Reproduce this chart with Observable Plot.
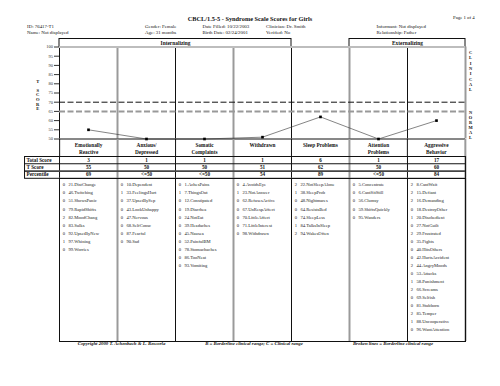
<!DOCTYPE html>
<html><head><meta charset="utf-8">
<script src="https://cdn.jsdelivr.net/npm/d3@7"></script>
<script src="https://cdn.jsdelivr.net/npm/@observablehq/plot@0.6"></script>
<style>
html,body{margin:0;padding:0;background:#fff;}
#page{position:relative;width:500px;height:386px;overflow:hidden;font-family:"Liberation Serif","Times New Roman",serif;color:#111;}
.t{position:absolute;white-space:nowrap;line-height:1;}
#page svg{position:absolute;left:0;}
</style></head>
<body><div id="page"></div>
<script>
// ---------- data ----------
const titleText = "CBCL/1.5-5 - Syndrome Scale Scores for Girls";
const pageText = "Page 1 of 4";
const infoCol1 = ["ID: 76417-T1", "Name: Not displayed"];
const infoCol2 = ["Gender: Female", "Age: 31 months"];
const infoCol3 = ["Date Filled: 10/22/2003", "Birth Date: 02/24/2001"];
const infoCol4 = ["Clinician: Dr. Smith", "Verified: No"];
const infoCol5 = ["Informant: Not displayed", "Relationship: Father"];
const groupNames = ["Internalizing", "Externalizing"];
const groupFrom = [0, 5];
const groupTo = [4, 7];
const scaleNames = ["Emotionally\nReactive", "Anxious/\nDepressed", "Somatic\nComplaints", "Withdrawn", "Sleep Problems", "Attention\nProblems", "Aggressive\nBehavior"];
const totalScores = ["3", "1", "1", "1", "6", "1", "17"];
const tScores = [55, 50, 50, 51, 62, 50, 60];
const percentiles = ["69", "<=50", "<=50", "54", "89", "<=50", "84"];
const rowLabels = ["Total Score", "T Score", "Percentile"];
const yTicks = [50, 55, 60, 65, 70, 75, 80, 85, 90, 95, 100];
const clinicalLine = 70;
const borderlineLine = 65;
const itemsEmotional = ["21.DistChange","46.Twitching","51.ShowsPanic","79.RapidShifts","82.MoodChang","83.Sulks","92.UpsetByNew","97.Whining","99.Worries"];
const scoresEmotional = [0,0,0,0,2,0,0,1,0];
const itemsAnxious = ["10.Dependent","33.FeelingsHurt","37.UpsetBySep","43.LookUnhappy","47.Nervous","68.SelfConsc","87.Fearful","90.Sad"];
const scoresAnxious = [0,1,0,0,0,0,0,0];
const itemsSomatic = ["1.AchesPains","7.ThingsOut","12.Constipated","19.Diarrhea","24.NotEat","39.Headaches","45.Nausea","52.PainfulBM","78.Stomachaches","86.TooNeat","93.Vomiting"];
const scoresSomatic = [0,1,0,0,0,0,0,0,0,0,0];
const itemsWithdrawn = ["4.AvoidsEye","23.NotAnswer","62.RefusesActive","67.UnRespAffect","70.LittleAffect","71.LittleInterest","98.Withdrawn"];
const scoresWithdrawn = [0,1,0,0,0,0,0];
const itemsSleep = ["22.NotSleepAlone","38.SleepProb","48.Nightmares","64.ResistsBed","74.SleepLess","84.TalksInSleep","94.WakesOften"];
const scoresSleep = [2,1,0,0,0,1,2];
const itemsAttention = ["5.Concentrate","6.CantSitStill","56.Clumsy","59.ShiftsQuickly","95.Wanders"];
const scoresAttention = [0,0,0,0,0];
const itemsAggressive = ["8.CantWait","15.Defiant","16.Demanding","18.DestroyOther","20.Disobedient","27.NotGuilt","29.Frustrated","35.Fights","40.HitsOthers","42.HurtsAccident","44.AngryMoods","53.Attacks","58.Punishment","66.Screams","69.Selfish","81.Stubborn","85.Temper","88.Uncooperative","96.WantAttention"];
const scoresAggressive = [2,2,2,0,1,0,2,0,0,0,2,0,1,2,0,0,2,1,0];
const footerTexts = ["Copyright 2000 T. Achenbach & L. Rescorla", "B = Borderline clinical range; C = Clinical range", "Broken lines = Borderline clinical range"];
const tScoreLetters = ["T", "", "S", "C", "O", "R", "E"];
const clinicalLetters = ["C","L","I","N","I","C","A","L"];
const normalLetters = ["N","O","R","M","A","L"];

// ---------- helpers ----------
const page = document.getElementById("page");
const FONT = "Liberation Serif";
function addText(txt, x, y, opts = {}) {
  const d = document.createElement("div");
  d.className = "t";
  d.textContent = txt;
  d.style.left = x + "px";
  d.style.top = y + "px";
  d.style.fontSize = (opts.size || 5) + "px";
  if (opts.bold) d.style.fontWeight = "bold";
  if (opts.italic) d.style.fontStyle = "italic";
  if (opts.center) d.style.transform = "translateX(-50%)";
  page.appendChild(d);
  return d;
}
function place(svg, top) {
  svg.style.top = top + "px";
  page.appendChild(svg);
}
const nCols = scaleNames.length;
const dividers = d3.range(nCols + 1);
const divStroke = d => (d % 2 === 1 ? "#9a9a9a" : "#111");
const divWidth = d => (d % 2 === 1 ? 2 : 1);
const baseStyle = {background: "transparent", overflow: "visible", fontFamily: FONT, color: "#111"};
const xOpt = {domain: [0, nCols], axis: null};

// ---------- header text ----------
addText(titleText, 250, 15.5, {size: 6.3, bold: true, center: true});
addText(pageText, 453, 16.3, {size: 4.8});
[infoCol1, infoCol2, infoCol3, infoCol4, infoCol5].forEach((col, k) => {
  const xs = [27, 145, 202.5, 266, 376.5];
  col.forEach((t, j) => addText(t, xs[k], 24.5 + j * 6.8, {size: 4.9}));
});

// ---------- group header (Internalizing / Externalizing) ----------
const groups = groupNames.map((n, i) => ({name: n, from: groupFrom[i], to: groupTo[i]}));
place(Plot.plot({
  width: 500, height: 8.5, marginTop: 0.5, marginBottom: 0, marginLeft: 59, marginRight: 35,
  x: xOpt, style: baseStyle,
  marks: [
    Plot.rect(groups, {x1: "from", x2: "to", stroke: "#111", fill: "none", strokeWidth: 1}),
    Plot.text(groups, {x: d => (d.from + d.to) / 2, text: "name", frameAnchor: "middle", fontWeight: "bold", fontSize: 5.4, dy: 0.3})
  ]
}), 38);

// ---------- T-score chart ----------
const pts = tScores.map((v, i) => ({col: i + 0.5, t: v}));
place(Plot.plot({
  width: 500, height: 102, marginTop: 8.5, marginBottom: 1.5, marginLeft: 59, marginRight: 35,
  x: xOpt,
  y: {domain: [50, 100], ticks: yTicks, tickSize: 5, tickPadding: 1.5, label: null, tickFormat: d => String(d)},
  style: {...baseStyle, fontSize: "4.5px", color: "#333"},
  marks: [
    Plot.ruleX(dividers, {x: d => d, y1: 50, y2: 100, stroke: divStroke, strokeWidth: divWidth}),
    Plot.ruleY([100], {stroke: "#bdbdbd", strokeWidth: 2}),
    Plot.ruleY([clinicalLine], {stroke: "#111", strokeWidth: 1, strokeDasharray: "6,2.5"}),
    Plot.ruleY([borderlineLine], {stroke: "#999", strokeWidth: 2, strokeDasharray: "6,2.5"}),
    Plot.ruleY([50], {stroke: "#111", strokeWidth: 1}),
    Plot.line(pts, {x: "col", y: "t", stroke: "#333", strokeWidth: 0.6}),
    Plot.dot(pts, {x: "col", y: "t", symbol: "square", r: 1.5, fill: "#000", stroke: "none"})
  ]
}), 38);

// ---------- scale labels row ----------
const labelRows = scaleNames.map((n, i) => ({col: i + 0.5, name: n}));
place(Plot.plot({
  width: 500, height: 17.2, marginTop: 0, marginBottom: 0, marginLeft: 59, marginRight: 35,
  x: xOpt, y: {axis: null}, style: baseStyle,
  marks: [
    Plot.ruleX(dividers, {x: d => d, stroke: divStroke, strokeWidth: divWidth}),
    Plot.text(labelRows, {x: "col", text: "name", frameAnchor: "top", lineAnchor: "top", dy: 2.6, fontWeight: "bold", fontSize: 5.3, lineHeight: 1.3})
  ]
}), 138.5);

// ---------- score table ----------
const scoreCells = [];
[totalScores, tScores.map(String), percentiles].forEach((arr, r) =>
  arr.forEach((v, i) => scoreCells.push({col: i + 0.5, row: r + 0.5, v})));
place(Plot.plot({
  width: 500, height: 21.8, marginTop: 0, marginBottom: 0, marginLeft: 24, marginRight: 35,
  x: {domain: [0, nCols], range: [59, 465], axis: null},
  y: {domain: [0, 3], range: [0, 21.8], axis: null},
  style: baseStyle,
  marks: [
    Plot.ruleX(dividers, {x: d => d, stroke: divStroke, strokeWidth: divWidth}),
    Plot.ruleY([1], {stroke: "#111", strokeWidth: 1}),
    Plot.ruleY([2], {stroke: "#444", strokeWidth: 1.8}),
    Plot.frame({stroke: "#111", strokeWidth: 1}),
    Plot.text(rowLabels, {y: (d, i) => i + 0.5, text: d => d, frameAnchor: "left", textAnchor: "start", dx: 2, fontWeight: "bold", fontSize: 5.2}),
    Plot.text(scoreCells, {x: "col", y: "row", text: "v", fontWeight: "bold", fontSize: 5.2})
  ]
}), 155.7);

// ---------- item lists ----------
const itemCols = [
  [itemsEmotional, scoresEmotional], [itemsAnxious, scoresAnxious], [itemsSomatic, scoresSomatic],
  [itemsWithdrawn, scoresWithdrawn], [itemsSleep, scoresSleep], [itemsAttention, scoresAttention],
  [itemsAggressive, scoresAggressive]
];
const items = [];
itemCols.forEach(([names, scores], c) => names.forEach((n, i) => items.push({col: c, idx: i, name: n, score: String(scores[i])})));
place(Plot.plot({
  width: 500, height: 163, marginTop: 0, marginBottom: 0, marginLeft: 59, marginRight: 35,
  x: xOpt,
  y: {domain: [0, 18], range: [6.4, 151.2], axis: null},
  style: baseStyle,
  marks: [
    Plot.ruleX(dividers, {x: d => d, stroke: divStroke, strokeWidth: divWidth}),
    Plot.frame({stroke: "#111", strokeWidth: 1}),
    Plot.text(items, {x: "col", y: "idx", text: "score", dx: 4.3, fontSize: 4.6, fill: "#222"}),
    Plot.text(items, {x: "col", y: "idx", text: "name", dx: 9, textAnchor: "start", fontSize: 4.6, fill: "#222"})
  ]
}), 177.5);

// ---------- side letters ----------
function vertical(letters, x, y0, step, size) {
  letters.forEach((l, i) => { if (l) addText(l, x, y0 + i * step, {size, bold: true, center: true}); });
}
vertical(tScoreLetters, 37.7, 79.5, 4.6, 4.6);
vertical(clinicalLetters, 470.5, 51, 5.3, 4.4);
vertical(normalLetters, 470.5, 110.5, 5.1, 4.4);

// ---------- footer ----------
addText(footerTexts[0], 121.5, 342, {size: 4.8, bold: true, italic: true, center: true});
addText(footerTexts[1], 254, 342, {size: 4.8, bold: true, italic: true, center: true});
addText(footerTexts[2], 393, 342, {size: 4.8, bold: true, italic: true, center: true});
</script></body></html>
